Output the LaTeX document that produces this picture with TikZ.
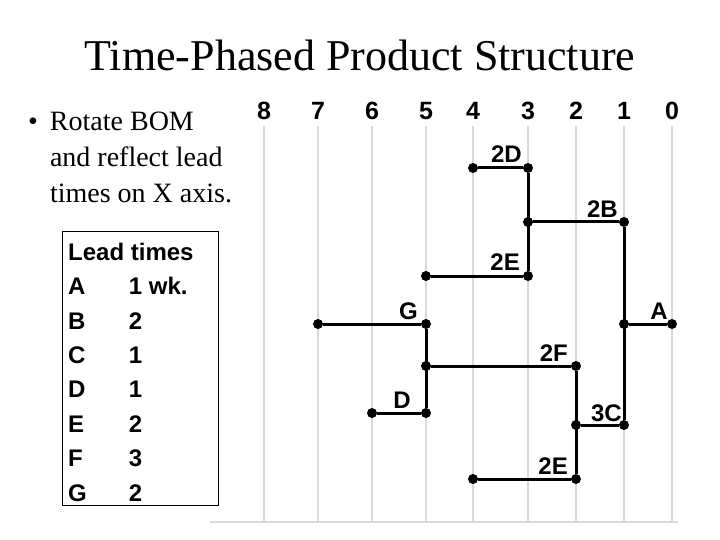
\documentclass[tikz,border=0pt]{standalone}
\usepackage{fontspec}
\setmainfont{Liberation Serif}
\setsansfont{Liberation Sans}
\usetikzlibrary{positioning}

\begin{document}
\begin{tikzpicture}
[x=1pt,y=-1pt,
grid/.style={draw=black!15,line width=1.5pt},
link/.style={line width=3pt},
dot/.style={shape=circle,fill=black,inner sep=0pt,minimum size=10pt},
lbl/.style={font=\sffamily\bfseries\fontsize{24}{24}\selectfont,anchor=south east,inner sep=1pt},
num/.style={font=\sffamily\bfseries\fontsize{25}{25}\selectfont}]

\useasboundingbox (0,0) rectangle (720,540);

% title and bullet
\node (title) at (360,55) {\fontsize{44}{44}\selectfont Time-Phased Product Structure};
\node (bullet) [anchor=north west,align=left,inner sep=0pt] at (28,112)
  {\fontsize{28}{36}\selectfont\textbullet\hspace{12pt}\parbox[t]{230pt}{Rotate BOM\\and reflect lead\\times on X axis.}};

% lead times box
\node (lead) [draw,thick,anchor=north west,inner sep=0pt,minimum width=156pt,minimum height=274pt] at (62,231) {};
\node (leadtxt) [anchor=north west,inner sep=0pt,align=left,
  font=\sffamily\bfseries\fontsize{24}{34.4}\selectfont] at (68,236)
  {\begin{tabular}{@{}l@{\hspace{42pt}}l@{}}\multicolumn{2}{@{}l@{}}{Lead times}\\
  A & 1 wk.\\ B & 2\\ C & 1\\ D & 1\\ E & 2\\ F & 3\\ G & 2\end{tabular}};

% time axis
\foreach \t/\x in {8/264,7/318,6/372,5/426,4/473,3/528,2/576,1/624,0/672} {
  \draw[grid] (\x,126) -- (\x,522);
  \node (t\t) [num] at (\x,111) {\t};
}
\draw[grid] (210,522) -- (678,522);

% dots
\node (da) [dot] at (672,324) {};
\node (a1) [dot] at (624,324) {};
\node (b1) [dot] at (624,222) {};
\node (c1) [dot] at (624,425) {};
\node (b3) [dot] at (528,222) {};
\node (d3) [dot] at (528,168) {};
\node (d4) [dot] at (473,168) {};
\node (e3) [dot] at (528,276) {};
\node (e5) [dot] at (426,276) {};
\node (c2) [dot] at (576,425) {};
\node (f2) [dot] at (576,366) {};
\node (f5) [dot] at (426,366) {};
\node (g5) [dot] at (426,324) {};
\node (g7) [dot] at (318,324) {};
\node (dd5) [dot] at (426,413) {};
\node (dd6) [dot] at (372,413) {};
\node (ee2) [dot] at (576,479) {};
\node (ee4) [dot] at (473,479) {};

% links
\draw[link] (da) -- (a1);
\draw[link] (b1) -- (c1);
\draw[link] (b1) -- (b3);
\draw[link] (d3) -- (e3);
\draw[link] (d3) -- (d4);
\draw[link] (e3) -- (e5);
\draw[link] (c1) -- (c2);
\draw[link] (f2) -- (ee2);
\draw[link] (f2) -- (f5);
\draw[link] (g5) -- (dd5);
\draw[link] (g5) -- (g7);
\draw[link] (dd5) -- (dd6);
\draw[link] (ee2) -- (ee4);

% labels
\node [lbl] at (523,164) {2D};
\node [lbl] at (619,219) {2B};
\node [lbl] at (521,272) {2E};
\node [lbl] at (669,321) {A};
\node [lbl] at (419,321) {G};
\node [lbl] at (569,363) {2F};
\node [lbl] at (412,410) {D};
\node [lbl] at (623,423) {3C};
\node [lbl] at (569,476) {2E};
\end{tikzpicture}
\end{document}
